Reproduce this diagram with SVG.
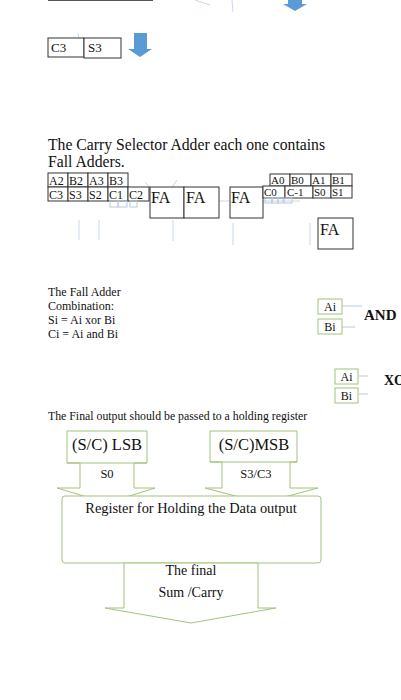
<svg xmlns="http://www.w3.org/2000/svg" width="401" height="700" viewBox="0 0 401 700">
<style>
.t{font-family:"Liberation Serif","Times New Roman",serif;fill:#111}
.cell{fill:#fff;stroke:#333;stroke-width:1}
.fa{fill:#fff;stroke:#333;stroke-width:1}
.g{fill:#fff;stroke:#a3c27a;stroke-width:1}
.faint{stroke:#c9d8ea;stroke-width:1;fill:none}
.blue{fill:#5b9bd5}
.sm{fill:none;stroke:#b8c8dc;stroke-width:1}
.ln{stroke:#b8c8dc;stroke-width:1}
</style>
<rect width="401" height="700" fill="#fff"/>
<g id="connectors">
<line class="faint" x1="195" y1="0" x2="210" y2="5"/>
<line class="faint" x1="232" y1="0" x2="233" y2="12"/>
<line class="faint" x1="78" y1="33" x2="82" y2="57"/>
<line class="faint" x1="145" y1="182" x2="150" y2="188"/>
<line class="faint" x1="168" y1="193" x2="177" y2="180"/>
<line class="faint" x1="248" y1="200" x2="262" y2="186"/>
<line class="faint" x1="302" y1="198" x2="308" y2="190"/>
<line class="faint" x1="177" y1="201" x2="300" y2="201"/>
<line class="faint" x1="79" y1="220" x2="79" y2="240"/>
<line class="faint" x1="99" y1="220" x2="99" y2="240"/>
<line class="faint" x1="173" y1="220" x2="173" y2="241"/>
<line class="faint" x1="233" y1="223" x2="233" y2="245"/>
<line class="faint" x1="310" y1="223" x2="310" y2="245"/>
<line class="ln" x1="342" y1="306" x2="362" y2="306"/>
<line class="ln" x1="342" y1="327" x2="355" y2="327"/>
<line class="ln" x1="359" y1="376" x2="368" y2="376"/>
<line class="ln" x1="359" y1="394" x2="368" y2="394"/>
</g>
<g id="top-remnant">
<line x1="48" y1="0.5" x2="153" y2="0.5" stroke="#555" stroke-width="1"/>
<path class="blue" d="M288 0 H302 V4 H307 L295 11 L283 4 H288 Z"/>
</g>
<g id="c3s3">
<rect class="cell" x="48" y="38" width="36" height="19"/>
<rect class="cell" x="84" y="38" width="37" height="20"/>
<text class="t" x="51" y="52" font-size="13">C3</text>
<text class="t" x="88" y="52" font-size="13">S3</text>
<path class="blue" d="M134 33 H147 V49 H152 L140 57 L128 49 H134 Z"/>
</g>
<g id="title">
<text class="t" x="48" y="150" font-size="15.7">The Carry Selector Adder each one contains</text>
<text class="t" x="48" y="167" font-size="15.7">Fall Adders.</text>
</g>
<g id="left-table">
<rect class="cell" x="48" y="173" width="20" height="14"/>
<rect class="cell" x="68" y="173" width="20" height="14"/>
<rect class="cell" x="88" y="173" width="20" height="14"/>
<rect class="cell" x="108" y="173" width="20" height="14"/>
<rect class="cell" x="48" y="187" width="20" height="14"/>
<rect class="cell" x="68" y="187" width="20" height="14"/>
<rect class="cell" x="88" y="187" width="20" height="14"/>
<rect class="cell" x="108" y="187" width="20" height="14"/>
<rect class="cell" x="128" y="187" width="21" height="14"/>
<text class="t" x="49" y="184.5" font-size="12">A2</text>
<text class="t" x="69" y="184.5" font-size="12">B2</text>
<text class="t" x="89" y="184.5" font-size="12">A3</text>
<text class="t" x="109" y="184.5" font-size="12">B3</text>
<text class="t" x="49" y="198.5" font-size="12">C3</text>
<text class="t" x="69" y="198.5" font-size="12">S3</text>
<text class="t" x="89" y="198.5" font-size="12">S2</text>
<text class="t" x="109" y="198.5" font-size="12">C1</text>
<text class="t" x="129" y="198.5" font-size="12">C2</text>
<rect class="sm" x="110" y="201" width="8" height="6"/>
<rect class="sm" x="118" y="201" width="9" height="6"/>
<rect class="sm" x="130" y="201" width="7" height="6"/>
</g>
<g id="fa1"><rect class="fa" x="150" y="187" width="34" height="31"/><text class="t" x="151" y="203" font-size="16">FA</text></g>
<g id="fa2"><rect class="fa" x="184" y="187" width="35" height="31"/><text class="t" x="186" y="203" font-size="16">FA</text></g>
<g id="fa3"><rect class="fa" x="230" y="187" width="33" height="31"/><text class="t" x="231" y="203" font-size="16">FA</text></g>
<g id="right-table">
<rect class="cell" x="270" y="174" width="20" height="12"/>
<rect class="cell" x="290" y="174" width="21" height="12"/>
<rect class="cell" x="311" y="174" width="20" height="12"/>
<rect class="cell" x="331" y="174" width="21" height="12"/>
<rect class="cell" x="263" y="186" width="22" height="12"/>
<rect class="cell" x="285" y="186" width="28" height="12"/>
<rect class="cell" x="313" y="186" width="18" height="12"/>
<rect class="cell" x="331" y="186" width="21" height="12"/>
<text class="t" x="271" y="184" font-size="11">A0</text>
<text class="t" x="291" y="184" font-size="11">B0</text>
<text class="t" x="312" y="184" font-size="11">A1</text>
<text class="t" x="332" y="184" font-size="11">B1</text>
<text class="t" x="264" y="196" font-size="11">C0</text>
<text class="t" x="287" y="196" font-size="11">C-1</text>
<text class="t" x="314" y="196" font-size="11">S0</text>
<text class="t" x="332" y="196" font-size="11">S1</text>
<rect class="sm" x="265" y="198" width="7" height="5"/>
<rect class="sm" x="272" y="198" width="6" height="5"/>
<rect class="sm" x="278" y="198" width="5" height="5"/>
<rect class="sm" x="284" y="198" width="8" height="5"/>
</g>
<g id="fa4"><rect class="fa" x="318" y="218" width="35" height="31"/><text class="t" x="320" y="235" font-size="16">FA</text></g>
<g id="combination">
<text class="t" x="48" y="296" font-size="12">The Fall Adder</text>
<text class="t" x="48" y="310" font-size="12">Combination:</text>
<text class="t" x="48" y="324" font-size="12">Si = Ai xor Bi</text>
<text class="t" x="48" y="338" font-size="12">Ci = Ai and Bi</text>
</g>
<g id="and-gate">
<rect class="g" x="318" y="299" width="24" height="15"/>
<text class="t" x="330" y="311" font-size="12" text-anchor="middle">Ai</text>
<rect class="g" x="318" y="319" width="24" height="15"/>
<text class="t" x="330" y="331" font-size="12" text-anchor="middle">Bi</text>
<text class="t" x="364" y="320" font-size="15" font-weight="bold">AND</text>
</g>
<g id="xor-gate">
<rect class="g" x="335" y="369" width="23" height="15"/>
<text class="t" x="346.5" y="381" font-size="12" text-anchor="middle">Ai</text>
<rect class="g" x="335" y="388" width="23" height="15"/>
<text class="t" x="346.5" y="400" font-size="12" text-anchor="middle">Bi</text>
<text class="t" x="384" y="385" font-size="14" font-weight="bold">XOR</text>
</g>
<g id="final-text">
<text class="t" x="48" y="420" font-size="11.8">The Final output should be passed to a holding register</text>
</g>
<g id="lsb">
<path class="g" d="M67 431 H147 V463 H134 V488 H155 L107 503 L57 488 H80 V463 H67 Z"/>
<line x1="67" y1="463" x2="147" y2="463" stroke="#a3c27a"/>
<text class="t" x="107" y="450" font-size="16.5" text-anchor="middle">(S/C) LSB</text>
<text class="t" x="107" y="478" font-size="12.5" text-anchor="middle">S0</text>
</g>
<g id="msb">
<path class="g" d="M210 431 H297 V462 H290 V488 H318 L262 503 L205 488 H222 V462 H210 Z"/>
<line x1="210" y1="462" x2="297" y2="462" stroke="#a3c27a"/>
<text class="t" x="254" y="450" font-size="16.5" text-anchor="middle">(S/C)MSB</text>
<text class="t" x="256" y="478" font-size="12.5" text-anchor="middle">S3/C3</text>
</g>
<g id="register">
<rect class="g" x="62" y="496" width="259" height="67" rx="3"/>
<text class="t" x="191" y="513" font-size="14.4" text-anchor="middle">Register for Holding the Data output</text>
</g>
<g id="final-sum">
<path class="g" d="M124 563 H258 V608 H276 L191 623 L105 608 H124 Z"/>
<text class="t" x="191" y="575" font-size="14" text-anchor="middle">The final</text>
<text class="t" x="191" y="597" font-size="14" text-anchor="middle">Sum /Carry</text>
</g>
</svg>
